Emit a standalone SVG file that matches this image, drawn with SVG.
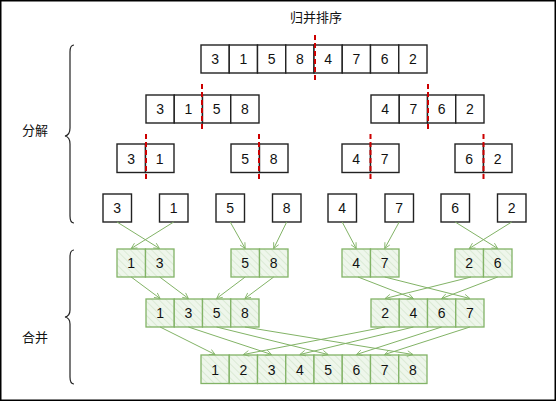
<svg xmlns="http://www.w3.org/2000/svg" width="556" height="401" viewBox="0 0 556 401">
<defs>
<pattern id="hatch" width="5" height="5" patternUnits="userSpaceOnUse" patternTransform="rotate(-45)">
<rect width="5" height="5" fill="#eef6eb"/>
<line x1="0" y1="0" x2="0" y2="5" stroke="#d3e6cc" stroke-width="1.4"/>
</pattern>
<marker id="arr" viewBox="0 0 10 10" refX="9" refY="5" markerWidth="7" markerHeight="7" orient="auto" markerUnits="userSpaceOnUse">
<path d="M1,1 L9,5 L1,9" fill="none" stroke="#82b366" stroke-width="1.2"/>
</marker>
<style>
.b{fill:#fff;stroke:#222;stroke-width:1.4}
.g{fill:url(#hatch);stroke:#82b366;stroke-width:1.3}
.t{font-family:"Liberation Sans",Arial,sans-serif;font-size:14px;fill:#111;text-anchor:middle;dominant-baseline:central}
.lab{font-family:"Liberation Sans","Noto Sans CJK SC",sans-serif;font-size:13px;fill:#111;text-anchor:middle;dominant-baseline:central}
.d{stroke:#cc0000;stroke-width:2;stroke-dasharray:5 3;fill:none}
.c{stroke:#82b366;stroke-width:1;fill:none;marker-end:url(#arr)}
.br{fill:none;stroke:#222;stroke-width:1.2}
</style>
</defs>
<rect x="0.75" y="0.75" width="554.5" height="399.5" fill="#fff" stroke="#000" stroke-width="1.5"/>
<text class="lab" x="316" y="17">归并排序</text>
<text class="lab" x="35" y="130">分解</text>
<text class="lab" x="35" y="337">合并</text>
<path class="br" d="M74,45 Q70,45 70,52 L70,128 Q70,135 65,136 Q70,137 70,144 L70,216 Q70,223 74,223"/>
<path class="br" d="M74,250 Q70,250 70,257 L70,310 Q70,316 65,317 Q70,318 70,324 L70,377 Q70,384 74,384"/>

<g id="row1">
<rect class="b" x="201" y="45" width="28.25" height="28"/><text class="t" x="215.1" y="59">3</text>
<rect class="b" x="229.25" y="45" width="28.25" height="28"/><text class="t" x="243.4" y="59">1</text>
<rect class="b" x="257.5" y="45" width="28.25" height="28"/><text class="t" x="271.6" y="59">5</text>
<rect class="b" x="285.75" y="45" width="28.25" height="28"/><text class="t" x="299.9" y="59">8</text>
<rect class="b" x="314" y="45" width="28.25" height="28"/><text class="t" x="328.1" y="59">4</text>
<rect class="b" x="342.25" y="45" width="28.25" height="28"/><text class="t" x="356.4" y="59">7</text>
<rect class="b" x="370.5" y="45" width="28.25" height="28"/><text class="t" x="384.6" y="59">6</text>
<rect class="b" x="398.75" y="45" width="28.25" height="28"/><text class="t" x="412.9" y="59">2</text>
<line class="d" x1="315" y1="35" x2="315" y2="82"/>
</g>

<g id="row2-left">
<rect class="b" x="146" y="95" width="28.25" height="28"/><text class="t" x="160.1" y="109">3</text>
<rect class="b" x="174.25" y="95" width="28.25" height="28"/><text class="t" x="188.4" y="109">1</text>
<rect class="b" x="202.5" y="95" width="28.25" height="28"/><text class="t" x="216.6" y="109">5</text>
<rect class="b" x="230.75" y="95" width="28.25" height="28"/><text class="t" x="244.9" y="109">8</text>
<line class="d" x1="202" y1="84" x2="202" y2="131"/>
</g>
<g id="row2-right">
<rect class="b" x="371" y="95" width="28.25" height="28"/><text class="t" x="385.1" y="109">4</text>
<rect class="b" x="399.25" y="95" width="28.25" height="28"/><text class="t" x="413.4" y="109">7</text>
<rect class="b" x="427.5" y="95" width="28.25" height="28"/><text class="t" x="441.6" y="109">6</text>
<rect class="b" x="455.75" y="95" width="28.25" height="28"/><text class="t" x="469.9" y="109">2</text>
<line class="d" x1="428" y1="84" x2="428" y2="131"/>
</g>

<g id="row3-a">
<rect class="b" x="117" y="144" width="28.5" height="28.5"/><text class="t" x="131.2" y="158.5">3</text>
<rect class="b" x="145.5" y="144" width="28.5" height="28.5"/><text class="t" x="159.7" y="158.5">1</text>
<line class="d" x1="146" y1="134" x2="146" y2="182"/>
</g>
<g id="row3-b">
<rect class="b" x="231" y="144" width="28.5" height="28.5"/><text class="t" x="245.2" y="158.5">5</text>
<rect class="b" x="259.5" y="144" width="28.5" height="28.5"/><text class="t" x="273.7" y="158.5">8</text>
<line class="d" x1="259" y1="134" x2="259" y2="182"/>
</g>
<g id="row3-c">
<rect class="b" x="342" y="144" width="28.5" height="28.5"/><text class="t" x="356.2" y="158.5">4</text>
<rect class="b" x="370.5" y="144" width="28.5" height="28.5"/><text class="t" x="384.7" y="158.5">7</text>
<line class="d" x1="370.5" y1="134" x2="370.5" y2="182"/>
</g>
<g id="row3-d">
<rect class="b" x="455" y="144" width="28.5" height="28.5"/><text class="t" x="469.2" y="158.5">6</text>
<rect class="b" x="483.5" y="144" width="28.5" height="28.5"/><text class="t" x="497.7" y="158.5">2</text>
<line class="d" x1="483.5" y1="134" x2="483.5" y2="182"/>
</g>

<g id="single-3"><rect class="b" x="103" y="194" width="28.5" height="28"/><text class="t" x="117.2" y="208">3</text></g>
<g id="single-1"><rect class="b" x="159.5" y="194" width="28.5" height="28"/><text class="t" x="173.7" y="208">1</text></g>
<g id="single-5"><rect class="b" x="216" y="194" width="28.5" height="28"/><text class="t" x="230.2" y="208">5</text></g>
<g id="single-8"><rect class="b" x="272.5" y="194" width="28.5" height="28"/><text class="t" x="286.7" y="208">8</text></g>
<g id="single-4"><rect class="b" x="328" y="194" width="28.5" height="28"/><text class="t" x="342.2" y="208">4</text></g>
<g id="single-7"><rect class="b" x="385" y="194" width="28.5" height="28"/><text class="t" x="399.2" y="208">7</text></g>
<g id="single-6"><rect class="b" x="441" y="194" width="28.5" height="28"/><text class="t" x="455.2" y="208">6</text></g>
<g id="single-2"><rect class="b" x="497.5" y="194" width="28.5" height="28"/><text class="t" x="511.7" y="208">2</text></g>

<g id="merge1-a">
<rect class="g" x="117" y="249" width="28.5" height="28"/><text class="t" x="131.2" y="263">1</text>
<rect class="g" x="145.5" y="249" width="28.5" height="28"/><text class="t" x="159.7" y="263">3</text>
</g>
<g id="merge1-b">
<rect class="g" x="231" y="249" width="28.5" height="28"/><text class="t" x="245.2" y="263">5</text>
<rect class="g" x="259.5" y="249" width="28.5" height="28"/><text class="t" x="273.7" y="263">8</text>
</g>
<g id="merge1-c">
<rect class="g" x="342" y="249" width="28.5" height="28"/><text class="t" x="356.2" y="263">4</text>
<rect class="g" x="370.5" y="249" width="28.5" height="28"/><text class="t" x="384.7" y="263">7</text>
</g>
<g id="merge1-d">
<rect class="g" x="455" y="249" width="28.5" height="28"/><text class="t" x="469.2" y="263">2</text>
<rect class="g" x="483.5" y="249" width="28.5" height="28"/><text class="t" x="497.7" y="263">6</text>
</g>

<g id="merge2-left">
<rect class="g" x="146" y="299" width="28.25" height="28"/><text class="t" x="160.1" y="313">1</text>
<rect class="g" x="174.25" y="299" width="28.25" height="28"/><text class="t" x="188.4" y="313">3</text>
<rect class="g" x="202.5" y="299" width="28.25" height="28"/><text class="t" x="216.6" y="313">5</text>
<rect class="g" x="230.75" y="299" width="28.25" height="28"/><text class="t" x="244.9" y="313">8</text>
</g>
<g id="merge2-right">
<rect class="g" x="371" y="299" width="28.25" height="28"/><text class="t" x="385.1" y="313">2</text>
<rect class="g" x="399.25" y="299" width="28.25" height="28"/><text class="t" x="413.4" y="313">4</text>
<rect class="g" x="427.5" y="299" width="28.25" height="28"/><text class="t" x="441.6" y="313">6</text>
<rect class="g" x="455.75" y="299" width="28.25" height="28"/><text class="t" x="469.9" y="313">7</text>
</g>

<g id="sorted">
<rect class="g" x="201" y="355" width="28.25" height="28.5"/><text class="t" x="215.1" y="369.5">1</text>
<rect class="g" x="229.25" y="355" width="28.25" height="28.5"/><text class="t" x="243.4" y="369.5">2</text>
<rect class="g" x="257.5" y="355" width="28.25" height="28.5"/><text class="t" x="271.6" y="369.5">3</text>
<rect class="g" x="285.75" y="355" width="28.25" height="28.5"/><text class="t" x="299.9" y="369.5">4</text>
<rect class="g" x="314" y="355" width="28.25" height="28.5"/><text class="t" x="328.1" y="369.5">5</text>
<rect class="g" x="342.25" y="355" width="28.25" height="28.5"/><text class="t" x="356.4" y="369.5">6</text>
<rect class="g" x="370.5" y="355" width="28.25" height="28.5"/><text class="t" x="384.6" y="369.5">7</text>
<rect class="g" x="398.75" y="355" width="28.25" height="28.5"/><text class="t" x="412.9" y="369.5">8</text>
</g>

<g id="connectors">
<line class="c" x1="117" y1="222" x2="159.5" y2="248.5"/>
<line class="c" x1="173.7" y1="222" x2="131.2" y2="248.5"/>
<line class="c" x1="230.2" y1="222" x2="245.2" y2="248.5"/>
<line class="c" x1="286.7" y1="222" x2="273.7" y2="248.5"/>
<line class="c" x1="342.2" y1="222" x2="356.2" y2="248.5"/>
<line class="c" x1="399.2" y1="222" x2="384.7" y2="248.5"/>
<line class="c" x1="455.2" y1="222" x2="497.7" y2="248.5"/>
<line class="c" x1="511.7" y1="222" x2="469.2" y2="248.5"/>

<line class="c" x1="131.2" y1="277" x2="160.1" y2="298.5"/>
<line class="c" x1="159.7" y1="277" x2="188.4" y2="298.5"/>
<line class="c" x1="245.2" y1="277" x2="216.6" y2="298.5"/>
<line class="c" x1="273.7" y1="277" x2="244.9" y2="298.5"/>
<line class="c" x1="358" y1="277" x2="413.4" y2="298.5"/>
<line class="c" x1="384.7" y1="277" x2="469.9" y2="298.5"/>
<line class="c" x1="471" y1="277" x2="385.1" y2="298.5"/>
<line class="c" x1="497.7" y1="277" x2="441.6" y2="298.5"/>

<line class="c" x1="160.1" y1="327" x2="215.1" y2="354.5"/>
<line class="c" x1="188.4" y1="327" x2="271.6" y2="354.5"/>
<line class="c" x1="216.6" y1="327" x2="328.1" y2="354.5"/>
<line class="c" x1="244.9" y1="327" x2="412.9" y2="354.5"/>
<line class="c" x1="385.1" y1="327" x2="243.4" y2="354.5"/>
<line class="c" x1="413.4" y1="327" x2="299.9" y2="354.5"/>
<line class="c" x1="441.6" y1="327" x2="356.4" y2="354.5"/>
<line class="c" x1="469.9" y1="327" x2="384.6" y2="354.5"/>
</g>
</svg>
